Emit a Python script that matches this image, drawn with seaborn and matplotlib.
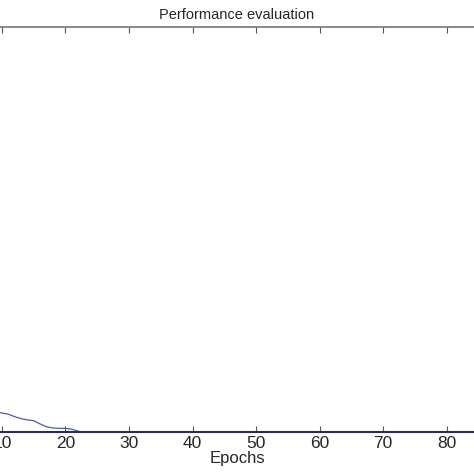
import matplotlib
matplotlib.use("Agg")
import matplotlib.pyplot as plt
import seaborn as sns

epochs = [9, 10, 11, 12, 13, 14, 15, 16, 17, 18, 19, 20, 21, 22, 23, 30, 40, 50, 60, 70, 80, 90]
perf = [0.5, 0.47, 0.44, 0.38, 0.33, 0.3, 0.28, 0.2, 0.13, 0.1, 0.09, 0.09, 0.07, 0.02, 0.0, 0.0, 0.0, 0.0, 0.0, 0.0, 0.0, 0.0]
xticks = [10, 20, 30, 40, 50, 60, 70, 80, 90]

sns.set_style("white")
plt.rcParams['font.family'] = ['Liberation Sans', 'DejaVu Sans']

fig = plt.figure(figsize=(4.74, 4.74), dpi=100)
ax = fig.add_axes([0.0, 0.0886, 1.0, 0.8546])
sns.lineplot(x=epochs, y=perf, ax=ax, color='#4f5aa8', linewidth=0.9)
ax.set_xticks(xticks)
ax.set_xticklabels([str(t) for t in xticks], fontsize=12.5)
ax.set_xlim(9.7, 84.3)
ax.set_ylim(0, 10)
ax.set_yticks([])
ax.tick_params(axis='x', direction='in', length=4, top=True, bottom=True, pad=3, color='#555555')
for s in ['left', 'right']:
    ax.spines[s].set_visible(False)
ax.spines['bottom'].set_color('#2a2d50')
ax.spines['bottom'].set_linewidth(1.5)
ax.spines['top'].set_color('#777777')
ax.spines['top'].set_linewidth(1.2)
ax.set_xlabel("Epochs", fontsize=12, labelpad=0)
ax.set_title("Performance evaluation", fontsize=10.5, pad=6)
fig.savefig("out.png", dpi=100)
